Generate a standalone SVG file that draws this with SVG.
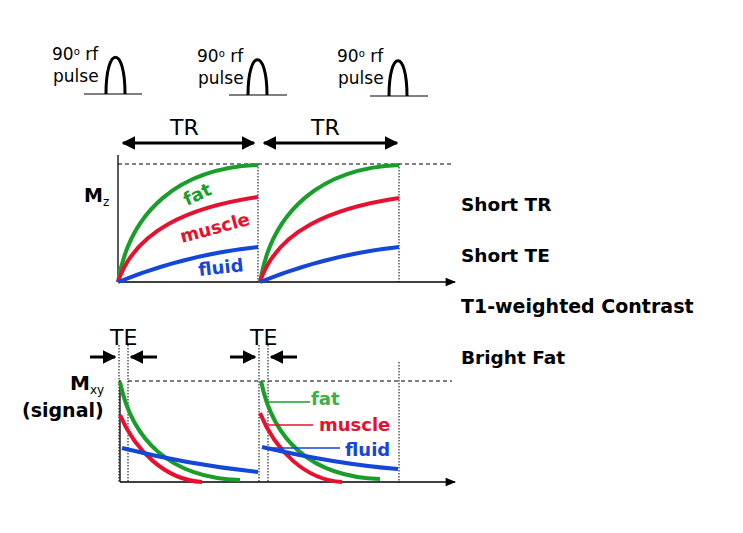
<svg xmlns="http://www.w3.org/2000/svg" width="743" height="533" viewBox="0 0 743 533">
<style>
.t{font-family:"DejaVu Sans",sans-serif;fill:#000}
.b{font-weight:bold}
.g{stroke:#1a9e2a;fill:none;stroke-width:4}
.r{stroke:#e8102e;fill:none;stroke-width:4}
.u{stroke:#1446d8;fill:none;stroke-width:4}
.ax{stroke:#000;stroke-width:1.3;fill:none}
.dash{stroke:#000;stroke-width:1;stroke-dasharray:4,3;fill:none}
.dot{stroke:#000;stroke-width:1;stroke-dasharray:1.5,1.5;fill:none}
.ar{stroke:#000;stroke-width:3;fill:none}
</style>
<defs>
<marker id="ah" viewBox="0 0 10 10" refX="9" refY="5" markerWidth="4.5" markerHeight="4.5" orient="auto-start-reverse"><path d="M0,0L10,5L0,10z" fill="#000"/></marker>
<marker id="sa" viewBox="0 0 10 10" refX="9" refY="5" markerWidth="10" markerHeight="8" orient="auto"><path d="M0,1L10,5L0,9z" fill="#000"/></marker>
</defs>
<rect width="743" height="533" fill="#fff"/>
<g id="pulses">
<g id="pulse1"><path d="M84,94H142" stroke="#555" stroke-width="1.3"/><path d="M106,94C106,45 125,45 125,94" stroke="#000" stroke-width="3" fill="none"/>
<text class="t" x="52" y="60" font-size="17">90<tspan font-size="10" dy="-5">o</tspan><tspan dy="5"> rf</tspan></text><text class="t" x="53" y="82" font-size="17">pulse</text></g>
<g id="pulse2"><path d="M229,95H287" stroke="#555" stroke-width="1.3"/><path d="M248,95C248,48 267,48 267,95" stroke="#000" stroke-width="3" fill="none"/>
<text class="t" x="197" y="62" font-size="17">90<tspan font-size="10" dy="-5">o</tspan><tspan dy="5"> rf</tspan></text><text class="t" x="198" y="84" font-size="17">pulse</text></g>
<g id="pulse3"><path d="M370,96H428" stroke="#555" stroke-width="1.3"/><path d="M389,96C389,49 407,49 407,96" stroke="#000" stroke-width="3" fill="none"/>
<text class="t" x="337" y="62" font-size="17">90<tspan font-size="10" dy="-5">o</tspan><tspan dy="5"> rf</tspan></text><text class="t" x="338" y="84" font-size="17">pulse</text></g>
</g>
<g id="connectors">
<path class="ar" d="M123,143H254" marker-start="url(#ah)" marker-end="url(#ah)"/>
<path class="ar" d="M264,143H397" marker-start="url(#ah)" marker-end="url(#ah)"/>
<path class="ar" d="M90,357H115" marker-end="url(#ah)"/>
<path class="ar" d="M157,357H131" marker-end="url(#ah)"/>
<path class="ar" d="M230,357H255" marker-end="url(#ah)"/>
<path class="ar" d="M297,357H271" marker-end="url(#ah)"/>
</g>
<g id="upper">
<path class="ax" d="M118,155V282"/>
<path class="ax" d="M118,282H455" marker-end="url(#sa)"/>
<path class="dash" d="M118,164H452"/>
<path class="dot" d="M258,164V282M399,164V282"/>
<path class="g" d="M118,282C130,210 180,168 258,165"/>
<path class="r" d="M118,282C135,230 190,207 258,197"/>
<path class="u" d="M118,282C160,265 210,252 258,247"/>
<path class="g" d="M260,282C272,210 322,168 399,165"/>
<path class="r" d="M260,282C277,230 332,208 399,198"/>
<path class="u" d="M260,282C302,265 352,252 399,247"/>
<text class="t b" x="187" y="206" font-size="18" style="fill:#1a9e2a" transform="rotate(-25 187 206)">fat</text>
<text class="t b" x="182" y="243" font-size="18" style="fill:#e8102e" transform="rotate(-15 182 243)">muscle</text>
<text class="t b" x="199" y="276" font-size="18" style="fill:#1446d8" transform="rotate(-6 199 276)">fluid</text>
<text class="t b" x="84" y="202" font-size="19">M<tspan font-size="12" font-weight="normal" dy="4">z</tspan></text>
<text class="t" x="170" y="135" font-size="22">TR</text>
<text class="t" x="311" y="135" font-size="22">TR</text>
</g>
<g id="lower">
<path class="ax" d="M120,380V482"/>
<path class="ax" d="M120,482H455" marker-end="url(#sa)"/>
<path class="dash" d="M128,381H452"/>
<path class="dot" d="M119,345V483M128,345V483M259,345V483M268,345V483M399,362V483"/>
<path class="g" d="M120,382C132,440 170,478 240,480"/>
<path class="r" d="M120,415C135,450 165,480 202,482"/>
<path class="u" d="M122,448C170,460 220,468 258,472"/>
<path class="g" d="M261,381C273,440 311,477 380,479"/>
<path class="r" d="M260,413C275,450 305,480 342,482"/>
<path class="u" d="M262,447C310,458 360,466 398,469"/>
<path d="M268,402H310" stroke="#1a9e2a" stroke-width="1.5"/>
<path d="M268,425H313" stroke="#e8102e" stroke-width="1.5"/>
<path d="M264,448H340" stroke="#1446d8" stroke-width="1.5"/>
<text class="t b" x="311" y="405" font-size="18" style="fill:#3cb043">fat</text>
<text class="t b" x="319" y="431" font-size="18" style="fill:#e8102e">muscle</text>
<text class="t b" x="345" y="456" font-size="18" style="fill:#1446d8">fluid</text>
<text class="t b" x="70" y="390" font-size="20">M<tspan font-size="12" font-weight="normal" dy="4">xy</tspan></text>
<text class="t b" x="22" y="417" font-size="19">(signal)</text>
<text class="t" x="110" y="345" font-size="22">TE</text>
<text class="t" x="250" y="345" font-size="22">TE</text>
</g>
<g id="labels">
<text class="t b" x="461" y="211" font-size="18.5">Short TR</text>
<text class="t b" x="461" y="262" font-size="18.5">Short TE</text>
<text class="t b" x="461" y="313" font-size="19">T1-weighted Contrast</text>
<text class="t b" x="461" y="364" font-size="18.5">Bright Fat</text>
</g>
</svg>
